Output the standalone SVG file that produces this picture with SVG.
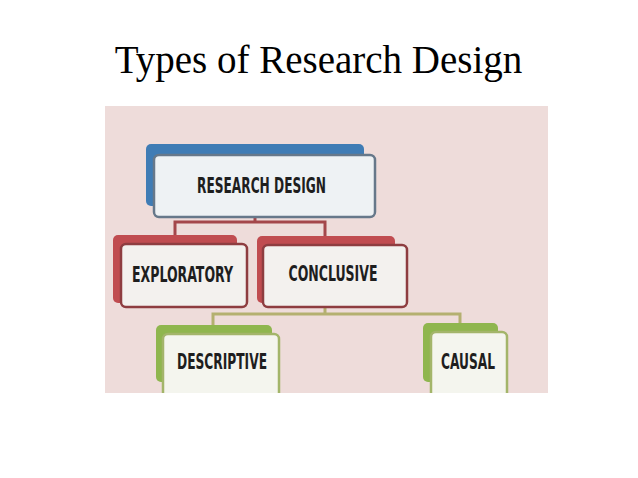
<svg xmlns="http://www.w3.org/2000/svg" width="638" height="478" viewBox="0 0 638 478">
<style>
.title{font-family:"Liberation Serif","Times New Roman",serif;font-size:39px;fill:#000}
.lbl{font-family:"Liberation Sans Narrow","DejaVu Sans Condensed","Liberation Sans",sans-serif;font-weight:bold;font-size:20.5px;fill:#1e1e1e}
.front{stroke-width:2.5}
.blue .back{fill:#3f7cb5}
.blue .front{fill:#eef2f4;stroke:#66788a}
.red .back{fill:#c04c50}
.red .front{fill:#f3f1ee;stroke:#8e3d40}
.green .back{fill:#8fb64e}
.green .front{fill:#f4f5ee;stroke:#a3b56a}
.conn path{fill:none;stroke-width:3}
</style>
<rect width="638" height="478" fill="#ffffff"/>
<text class="title" x="318.5" y="73" text-anchor="middle">Types of Research Design</text>
<rect x="105" y="106" width="443" height="287" fill="#eedcda"/>
<g class="conn">
<path d="M255 217V222M175 235V222H325V237" stroke="#a4474b"/>
<path d="M325 307V314M213 325V314H460V324" stroke="#b4b070"/>
</g>
<g id="research-design" class="blue">
<rect class="back" x="146" y="144" width="218" height="62" rx="5"/>
<rect class="front" x="154" y="155" width="221" height="62" rx="5"/>
<text class="lbl" x="261.5" y="192.5" text-anchor="middle" textLength="129" lengthAdjust="spacingAndGlyphs">RESEARCH DESIGN</text>
</g>
<g id="exploratory" class="red">
<rect class="back" x="113" y="235" width="124" height="68" rx="5"/>
<rect class="front" x="121" y="244" width="126" height="63" rx="5"/>
<text class="lbl" x="182.5" y="281.5" text-anchor="middle" textLength="101" lengthAdjust="spacingAndGlyphs">EXPLORATORY</text>
</g>
<g id="conclusive" class="red">
<rect class="back" x="257" y="236" width="138" height="67" rx="5"/>
<rect class="front" x="263" y="245" width="144" height="62" rx="5"/>
<text class="lbl" x="333" y="281" text-anchor="middle" textLength="89" lengthAdjust="spacingAndGlyphs">CONCLUSIVE</text>
</g>
<g id="descriptive" class="green">
<rect class="back" x="156" y="325" width="116" height="57" rx="5"/>
<rect class="front" x="163" y="334" width="116" height="68" rx="5"/>
<text class="lbl" x="222" y="368.5" text-anchor="middle" textLength="90" lengthAdjust="spacingAndGlyphs">DESCRIPTIVE</text>
</g>
<g id="causal" class="green">
<rect class="back" x="423" y="323" width="75" height="59" rx="5"/>
<rect class="front" x="431" y="332" width="76" height="70" rx="5"/>
<text class="lbl" x="468" y="368.5" text-anchor="middle" textLength="54" lengthAdjust="spacingAndGlyphs">CAUSAL</text>
</g>
<rect x="105" y="393" width="443" height="20" fill="#ffffff"/>
</svg>
